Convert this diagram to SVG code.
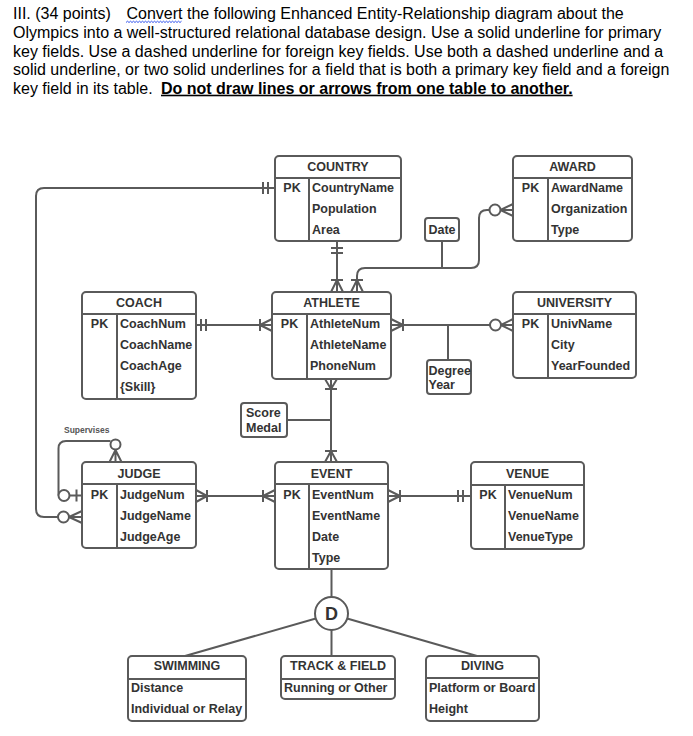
<svg xmlns="http://www.w3.org/2000/svg" width="693" height="736" viewBox="0 0 693 736">
<style>
.q{font-family:"Liberation Sans",Arial,sans-serif;font-size:16px;fill:#000}
.qb{font-weight:bold;text-decoration:underline}
.box{fill:#fff;stroke:#5a5a5a;stroke-width:2}
.sep{stroke:#5a5a5a;stroke-width:2}
.ln{stroke:#5a5a5a;stroke-width:2;fill:none}
.t{font-family:"Liberation Sans",Arial,sans-serif;font-weight:bold;font-size:12.5px;fill:#333}
.m{text-anchor:middle}
.circ{fill:#fff;stroke:#5a5a5a;stroke-width:2}
.sm{font-family:"Liberation Sans",Arial,sans-serif;font-weight:bold;font-size:8.5px;fill:#555}
</style>
<rect width="693" height="736" fill="#fff"/>
<g id="question">
<text class="q" x="13" y="19.3">III. (34 points)</text>
<text class="q" x="126.5" y="19.3">Convert the following Enhanced Entity-Relationship diagram about the</text>
<path d="M126,22.5 l1.5,-1.3 1.5,1.3 1.5,-1.3 1.5,1.3 1.5,-1.3 1.5,1.3 1.5,-1.3 1.5,1.3 1.5,-1.3 1.5,1.3 1.5,-1.3 1.5,1.3 1.5,-1.3 1.5,1.3 1.5,-1.3 1.5,1.3 1.5,-1.3 1.5,1.3 1.5,-1.3 1.5,1.3 1.5,-1.3 1.5,1.3 1.5,-1.3 1.5,1.3 1.5,-1.3 1.5,1.3 1.5,-1.3 1.5,1.3 1.5,-1.3 1.5,1.3 1.5,-1.3 1.5,1.3 1.5,-1.3 1.5,1.3 1.5,-1.3 1.5,1.3 1.5,-1.3" fill="none" stroke="#3355ee" stroke-width="1"/>
<text class="q" x="13" y="38">Olympics into a well-structured relational database design. Use a solid underline for primary</text>
<text class="q" x="13" y="56.6">key fields. Use a dashed underline for foreign key fields. Use both a dashed underline and a</text>
<text class="q" x="13" y="75.2">solid underline, or two solid underlines for a field that is both a primary key field and a foreign</text>
<text class="q" x="13" y="93.7">key field in its table.</text>
<text class="q qb" x="161" y="93.7">Do not draw lines or arrows from one table to another.</text>
</g>
<g id="connectors">
<!-- COUNTRY to JUDGE (left loop) -->
<path class="ln" d="M275,188 H44 Q36,188 36,196 V509 Q36,517 44,517 H58"/>
<path class="ln" d="M263,182 V194 M268,182 V194"/>
<circle class="circ" cx="63.5" cy="517" r="5.5"/>
<path class="ln" d="M69,517 H82 M69,517 L82,511 M69,517 L82,523"/>
<!-- COUNTRY to ATHLETE -->
<path class="ln" d="M337,241 V292 M331,248 H343 M331,253 H343 M331,280 H343 M337,280 L331,292 M337,280 L343,292"/>
<!-- ATHLETE to AWARD -->
<path class="ln" d="M357,292 V276 Q357,268 365,268 H471 Q479,268 479,260 V218 Q479,210 487,210 H489.5"/>
<path class="ln" d="M351,280 H363 M357,280 L351,292 M357,280 L363,292"/>
<path class="ln" d="M442,241 V268"/>
<circle class="circ" cx="495" cy="210" r="5.5"/>
<path class="ln" d="M500.5,210 H513 M500.5,210 L513,204 M500.5,210 L513,216"/>
<!-- COACH to ATHLETE -->
<path class="ln" d="M196,325 H272 M201,319 V331 M206,319 V331 M260,319 V331 M260,325 L272,319 M260,325 L272,331"/>
<!-- ATHLETE to UNIVERSITY -->
<path class="ln" d="M391,325 H490 M403,319 V331 M403,325 L391,319 M403,325 L391,331"/>
<path class="ln" d="M448,325 V360"/>
<circle class="circ" cx="495.5" cy="325" r="5.5"/>
<path class="ln" d="M501,325 H513 M501,325 L513,319 M501,325 L513,331"/>
<!-- ATHLETE to EVENT -->
<path class="ln" d="M331,379 V462 M325,389 H337 M331,389 L325,379 M331,389 L337,379 M325,451 H337 M331,451 L325,462 M331,451 L337,462"/>
<path class="ln" d="M287,420 H331"/>
<!-- JUDGE to EVENT -->
<path class="ln" d="M196,496 H275 M207,490 V502 M207,496 L196,490 M207,496 L196,502 M263,490 V502 M263,496 L275,490 M263,496 L275,502"/>
<!-- EVENT to VENUE -->
<path class="ln" d="M388,496 H471 M400,490 V502 M400,496 L388,490 M400,496 L388,502 M458,490 V502 M463,490 V502"/>
<!-- JUDGE self loop -->
<path class="ln" d="M110.5,441 H66 Q58.5,441 58.5,448.5 V495.5"/>
<circle class="circ" cx="115.5" cy="444.5" r="5"/>
<path class="ln" d="M115.5,449.5 V462 M115.5,450 L109.5,462 M115.5,450 L121.5,462"/>
<circle class="circ" cx="64" cy="495.5" r="5.5"/>
<path class="ln" d="M69.5,495.5 H82 M76.5,489.5 V501.5"/>
<!-- specialization -->
<path class="ln" d="M331.5,569 V614 M331.5,614 L185,656 M331.5,614 V656 M331.5,614 L477,656"/>
</g>
<g id="supervises-label"><text class="sm" x="64" y="433">Supervises</text></g>
<g id="disjoint">
<circle class="circ" cx="331.5" cy="613.5" r="16.5"/>
<text class="t m" x="331.5" y="619.5" style="font-size:18px">D</text>
</g>
<g id="country">
<rect class="box" x="275" y="156" width="126" height="85" rx="4"/>
<path class="sep" d="M275,178 H401 M309,178 V241"/>
<text class="t m" x="338" y="171">COUNTRY</text>
<text class="t m" x="292" y="192">PK</text>
<text class="t" x="312" y="192">CountryName</text>
<text class="t" x="312" y="213">Population</text>
<text class="t" x="312" y="234">Area</text>
</g>
<g id="award">
<rect class="box" x="513" y="156" width="119" height="85" rx="4"/>
<path class="sep" d="M513,178 H632 M548,178 V241"/>
<text class="t m" x="572.5" y="171">AWARD</text>
<text class="t m" x="530.5" y="192">PK</text>
<text class="t" x="551" y="192">AwardName</text>
<text class="t" x="551" y="213">Organization</text>
<text class="t" x="551" y="234">Type</text>
</g>
<g id="date-attr">
<rect class="box" x="425" y="218" width="34" height="23" rx="3"/>
<text class="t m" x="442" y="233.5">Date</text>
</g>
<g id="coach">
<rect class="box" x="82" y="292" width="114" height="107" rx="4"/>
<path class="sep" d="M82,314 H196 M117,314 V399"/>
<text class="t m" x="139" y="307">COACH</text>
<text class="t m" x="99.5" y="328">PK</text>
<text class="t" x="120" y="328">CoachNum</text>
<text class="t" x="120" y="349">CoachName</text>
<text class="t" x="120" y="370">CoachAge</text>
<text class="t" x="120" y="391">{Skill}</text>
</g>
<g id="athlete">
<rect class="box" x="272" y="292" width="119" height="87" rx="4"/>
<path class="sep" d="M272,314 H391 M307,314 V379"/>
<text class="t m" x="331.5" y="307">ATHLETE</text>
<text class="t m" x="289.5" y="328">PK</text>
<text class="t" x="310" y="328">AthleteNum</text>
<text class="t" x="310" y="349">AthleteName</text>
<text class="t" x="310" y="370">PhoneNum</text>
</g>
<g id="university">
<rect class="box" x="513" y="292" width="123" height="86" rx="4"/>
<path class="sep" d="M513,314 H636 M548,314 V378"/>
<text class="t m" x="574.5" y="307">UNIVERSITY</text>
<text class="t m" x="530.5" y="328">PK</text>
<text class="t" x="551" y="328">UnivName</text>
<text class="t" x="551" y="349">City</text>
<text class="t" x="551" y="370">YearFounded</text>
</g>
<g id="degree-attr">
<rect class="box" x="427" y="360" width="44" height="34" rx="3"/>
<text class="t" x="428.5" y="374.5">Degree</text>
<text class="t" x="428.5" y="388.5">Year</text>
</g>
<g id="score-attr">
<rect class="box" x="241" y="403" width="46" height="34" rx="3"/>
<text class="t" x="246" y="416.5">Score</text>
<text class="t" x="246" y="431.5">Medal</text>
</g>
<g id="judge">
<rect class="box" x="82" y="462" width="114" height="86" rx="4"/>
<path class="sep" d="M82,484 H196 M117,484 V548"/>
<text class="t m" x="139" y="477.5">JUDGE</text>
<text class="t m" x="99.5" y="499">PK</text>
<text class="t" x="120" y="499">JudgeNum</text>
<text class="t" x="120" y="520">JudgeName</text>
<text class="t" x="120" y="541">JudgeAge</text>
</g>
<g id="event">
<rect class="box" x="275" y="462" width="113" height="107" rx="4"/>
<path class="sep" d="M275,484 H388 M309,484 V569"/>
<text class="t m" x="331.5" y="477.5">EVENT</text>
<text class="t m" x="292" y="499">PK</text>
<text class="t" x="312" y="499">EventNum</text>
<text class="t" x="312" y="520">EventName</text>
<text class="t" x="312" y="541">Date</text>
<text class="t" x="312" y="562">Type</text>
</g>
<g id="venue">
<rect class="box" x="471" y="462" width="113" height="87" rx="4"/>
<path class="sep" d="M471,485 H584 M505,485 V549"/>
<text class="t m" x="527.5" y="477.5">VENUE</text>
<text class="t m" x="488" y="499">PK</text>
<text class="t" x="508" y="499">VenueNum</text>
<text class="t" x="508" y="520">VenueName</text>
<text class="t" x="508" y="541">VenueType</text>
</g>
<g id="swimming">
<rect class="box" x="128" y="656" width="118" height="65" rx="4"/>
<path class="sep" d="M128,679 H246"/>
<text class="t m" x="187" y="670">SWIMMING</text>
<text class="t" x="131" y="692">Distance</text>
<text class="t" x="131" y="713">Individual or Relay</text>
</g>
<g id="track-field">
<rect class="box" x="281" y="656" width="114" height="43" rx="4"/>
<path class="sep" d="M281,679 H395"/>
<text class="t m" x="338" y="670">TRACK &amp; FIELD</text>
<text class="t" x="284" y="692">Running or Other</text>
</g>
<g id="diving">
<rect class="box" x="426" y="656" width="113" height="65" rx="4"/>
<path class="sep" d="M426,678 H539"/>
<text class="t m" x="482.5" y="670">DIVING</text>
<text class="t" x="429" y="692">Platform or Board</text>
<text class="t" x="429" y="713">Height</text>
</g>
</svg>
